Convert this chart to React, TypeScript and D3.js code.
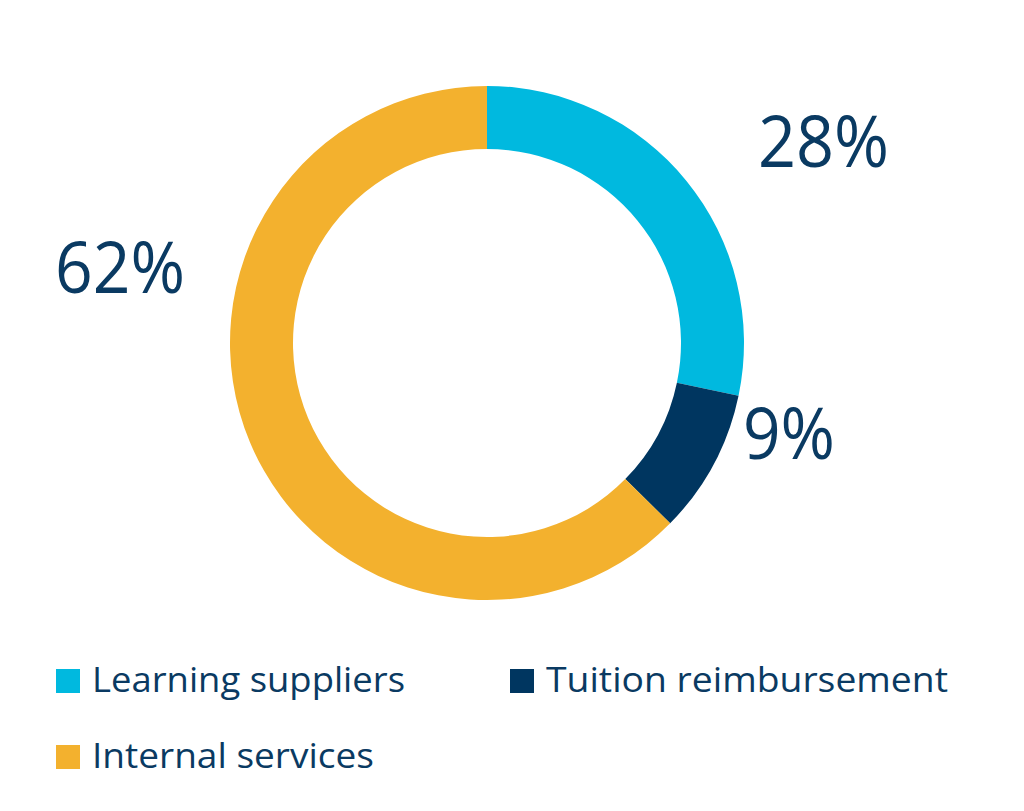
import React from "react";
import * as d3 from "d3";

// data
const categories = ["Learning suppliers", "Tuition reimbursement", "Internal services"];
const shares = [28, 9, 62];
const shareLabels = ["28%", "9%", "62%"];
const colors = ["#00B9DF", "#003660", "#F3B12E"];

const WIDTH = 1024;
const HEIGHT = 811;
const CX = 487;
const CY = 343;
const OUTER = 257;
const INNER = 194;
const TEXT = "#0A3A62";
const FONT = "'Open Sans', 'Noto Sans', sans-serif";

// where each percentage label sits, relative to the donut centre
const labelOffsets: [number, number, number][] = [
  // dx, dy (baseline), textLength
  [271, -176, 131],
  [256, 116, 92],
  [-432, -50, 130],
];

// legend layout: column x, row y
const legendPos: [number, number, number][] = [
  [56, 669, 313],
  [510, 669, 402],
  [56, 745, 282],
];

export default function App() {
  const pie = d3
    .pie<number>()
    .value((d) => d)
    .sort(null);
  const arc = d3.arc<d3.PieArcDatum<number>>().innerRadius(INNER).outerRadius(OUTER);
  const arcs = pie(shares);

  return (
    <svg
      width={WIDTH}
      height={HEIGHT}
      style={{ position: "absolute", left: 0, top: 0, background: "#fff" }}
      fontFamily={FONT}
    >
      <g transform={`translate(${CX},${CY})`}>
        {arcs.map((a, i) => (
          <path key={categories[i]} d={arc(a) || ""} fill={colors[i]} />
        ))}
        {arcs.map((a, i) => (
          <text
            key={shareLabels[i]}
            x={labelOffsets[i][0]}
            y={labelOffsets[i][1]}
            fontSize={72}
            fill={TEXT}
            textLength={labelOffsets[i][2]}
            lengthAdjust="spacingAndGlyphs"
          >
            {shareLabels[i]}
          </text>
        ))}
      </g>
      {categories.map((c, i) => (
        <g key={c} transform={`translate(${legendPos[i][0]},${legendPos[i][1]})`}>
          <rect width={24} height={24} fill={colors[i]} />
          <text
            x={36}
            y={23}
            fontSize={35}
            fill={TEXT}
            textLength={legendPos[i][2]}
            lengthAdjust="spacingAndGlyphs"
          >
            {c}
          </text>
        </g>
      ))}
    </svg>
  );
}
